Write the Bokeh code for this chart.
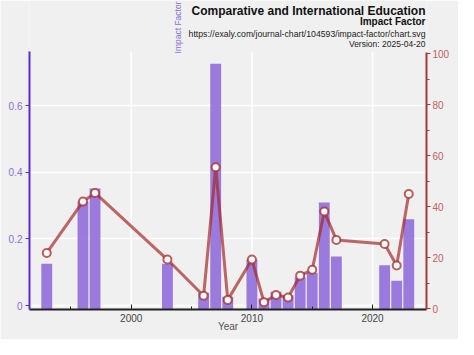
import math
from bokeh.plotting import figure
from bokeh.models import (ColumnDataSource, LinearAxis, Range1d, FixedTicker,
                          SingleIntervalTicker, Label)
from bokeh.embed import file_html
from bokeh.resources import INLINE

# ---- data ----
years = [1993, 1996, 1997, 2003, 2006, 2007, 2008, 2010, 2011, 2012, 2013,
         2014, 2015, 2016, 2017, 2021, 2022, 2023]
impact_factor = [0.125, 0.312, 0.351, 0.125, 0.038, 0.725, 0.026, 0.138, 0.021,
                 0.041, 0.031, 0.085, 0.098, 0.309, 0.147, 0.121, 0.074, 0.259]
percentile = [21.9, 42.0, 45.4, 19.3, 5.1, 55.5, 3.5, 19.3, 2.6, 5.4, 4.4,
              13.0, 15.3, 38.1, 27.0, 25.4, 17.0, 45.0]
x_ticks = [2000, 2010, 2020]
x_minor = [1995, 2005, 2015]
left_ticks = [0, 0.2, 0.4, 0.6]

title = "Comparative and International Education"
subtitle = "Impact Factor"
url = "https://exaly.com/journal-chart/104593/impact-factor/chart.svg"
version = "Version: 2025-04-20"
y_label = "Impact Factor"
x_label = "Year"

# plot-area extents (axes drawn only inside these bounds)
X_START, X_END = 1991.57, 2024.47
YL_START, YL_TOP = -0.012, 0.761
YR_START, YR_TOP = -0.27, 100.5
# the frame reaches the top of the canvas so the header texts can live in it
YL_END = 0.915
YR_END = 120.8

BG = "#f0f0f0"
PURPLE_AXIS = "#5a2bd6"
PURPLE_TXT = "#8a6fd0"
RED_AXIS = "#a33a3a"
RED_TXT = "#c06262"
FONT = "Liberation Sans"

p = figure(width=458, height=339, output_backend="svg", toolbar_location=None,
           x_range=Range1d(X_START, X_END), y_range=Range1d(YL_START, YL_END),
           min_border_left=29, min_border_right=32, min_border_top=0,
           min_border_bottom=30)
p.background_fill_color = BG
p.border_fill_color = BG
p.outline_line_color = None
p.extra_y_ranges = {"right": Range1d(YR_START, YR_END)}

src = ColumnDataSource(dict(year=years, ifv=impact_factor, pct=percentile))

# vertical grid lines limited to the plot area
p.xgrid.grid_line_color = None
p.segment(x0=x_ticks, y0=[YL_START] * len(x_ticks), x1=x_ticks,
          y1=[YL_TOP] * len(x_ticks), line_color="white", line_width=1.5)
p.ygrid.ticker = FixedTicker(ticks=left_ticks)
p.ygrid.grid_line_color = "white"
p.ygrid.grid_line_width = 1.5

p.vbar(x="year", top="ifv", bottom=YL_START, width=0.9, source=src,
       fill_color="#9370DB", fill_alpha=0.92, line_color=None)
p.line(x="year", y="pct", source=src, y_range_name="right",
       line_color="#a52a2a", line_alpha=0.7, line_width=3)
p.scatter(x="year", y="pct", source=src, y_range_name="right", size=8,
          fill_color="white", line_color="#a52a2a", line_alpha=0.75,
          line_width=2)

# x axis
xa = p.xaxis[0]
xa.ticker = FixedTicker(ticks=x_ticks, minor_ticks=x_minor)
xa.axis_line_color = "#222222"
xa.axis_line_width = 2
xa.major_tick_line_color = "#222222"
xa.major_tick_in = 5
xa.major_tick_out = 0
xa.minor_tick_line_color = "#222222"
xa.minor_tick_in = 3
xa.minor_tick_out = 0
xa.major_label_text_font = FONT
xa.major_label_text_font_size = "10px"
xa.major_label_text_color = "#444444"
xa.major_label_standoff = 4
xa.axis_label = x_label
xa.axis_label_text_font = FONT
xa.axis_label_text_font_size = "10px"
xa.axis_label_text_font_style = "normal"
xa.axis_label_text_color = "#555555"
xa.axis_label_standoff = -4

# left axis
ya = p.yaxis[0]
ya.ticker = FixedTicker(ticks=left_ticks)
ya.bounds = (YL_START, YL_TOP)
ya.axis_line_color = PURPLE_AXIS
ya.axis_line_width = 2
ya.major_tick_line_color = PURPLE_AXIS
ya.major_tick_in = 0
ya.major_tick_out = 4
ya.minor_tick_line_color = None
ya.major_label_text_font = FONT
ya.major_label_text_font_size = "10px"
ya.major_label_text_color = PURPLE_TXT
ya.major_label_standoff = 3

# right axis
ra = LinearAxis(y_range_name="right", bounds=(YR_START, YR_TOP),
                ticker=SingleIntervalTicker(interval=20, num_minor_ticks=2))
ra.axis_line_color = RED_AXIS
ra.axis_line_width = 2
ra.major_tick_line_color = RED_AXIS
ra.major_tick_in = 0
ra.major_tick_out = 4
ra.minor_tick_line_color = RED_AXIS
ra.minor_tick_in = 0
ra.minor_tick_out = 3
ra.major_label_text_font = FONT
ra.major_label_text_font_size = "10px"
ra.major_label_text_color = RED_TXT
ra.major_label_standoff = 2
p.add_layout(ra, "right")

# header texts (screen units measured from the frame's bottom-left corner)
FRAME_W, FRAME_H = 397, 309


def lab(text, x, y, size, bold=False, color="#111111", align="right",
        angle=0.0, baseline="alphabetic"):
    p.add_layout(Label(x=x, y=y, x_units="screen", y_units="screen", text=text,
                       text_font=FONT, text_font_size=size,
                       text_font_style="bold" if bold else "normal",
                       text_color=color, text_align=align,
                       text_baseline=baseline, angle=angle))


lab(title, FRAME_W - 1, FRAME_H - 10, "12px", bold=True)
lab(subtitle, FRAME_W - 1, FRAME_H - 21, "10px", bold=True)
lab(url, FRAME_W - 1, FRAME_H - 33, "8.7px", color="#222222")
lab(version, FRAME_W - 1, FRAME_H - 43.5, "8.5px", color="#222222")
lab(y_label, 148.5, FRAME_H - 1, "8.5px", color=PURPLE_TXT, align="right",
    angle=math.pi / 2, baseline="middle")

html = file_html(p, INLINE)
html = html.replace("<body>", '<body style="background-color:#f0f0f0;">', 1)
open("out.html", "w").write(html)
